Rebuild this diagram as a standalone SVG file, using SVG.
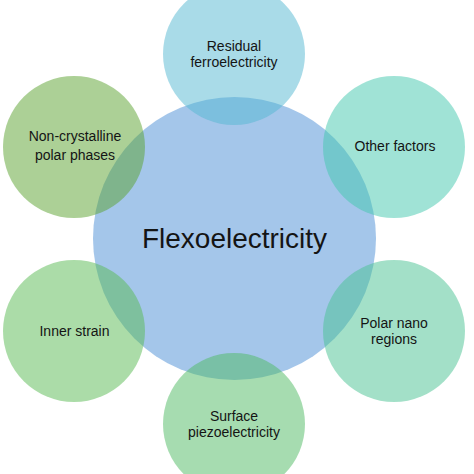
<svg xmlns="http://www.w3.org/2000/svg" width="474" height="474" viewBox="0 0 474 474">
<style>
  .c { fill-opacity: 0.5; stroke: none; }
  .t { font-family: "Liberation Sans", Arial, sans-serif; font-size: 14px; fill: #141414; text-anchor: middle; }
  .big { font-size: 28px; }
</style>
<rect width="474" height="474" fill="#ffffff"/>
<g id="connectors"></g>
<g id="center">
  <circle class="c" cx="234.5" cy="238.5" r="141.5" fill="#498dd5"/>
  <text class="t big" x="234.5" y="248">Flexoelectricity</text>
</g>
<g id="residual">
  <circle class="c" cx="234" cy="54" r="71" fill="#53b7d1"/>
  <text class="t" x="234" y="51">Residual</text>
  <text class="t" x="234" y="67">ferroelectricity</text>
</g>
<g id="noncrystalline">
  <circle class="c" cx="74" cy="147" r="71" fill="#59a12d"/>
  <text class="t" x="75" y="141">Non-crystalline</text>
  <text class="t" x="75" y="160">polar phases</text>
</g>
<g id="other">
  <circle class="c" cx="394" cy="147" r="71" fill="#41c7ad"/>
  <text class="t" x="395" y="151">Other factors</text>
</g>
<g id="inner">
  <circle class="c" cx="74" cy="331" r="71" fill="#57b951"/>
  <text class="t" x="74.5" y="336">Inner strain</text>
</g>
<g id="polar">
  <circle class="c" cx="394" cy="331" r="71" fill="#47c191"/>
  <text class="t" x="394" y="328">Polar nano</text>
  <text class="t" x="394" y="344">regions</text>
</g>
<g id="surface">
  <circle class="c" cx="234" cy="424" r="71" fill="#4db961"/>
  <text class="t" x="234" y="421">Surface</text>
  <text class="t" x="234" y="437">piezoelectricity</text>
</g>
</svg>
